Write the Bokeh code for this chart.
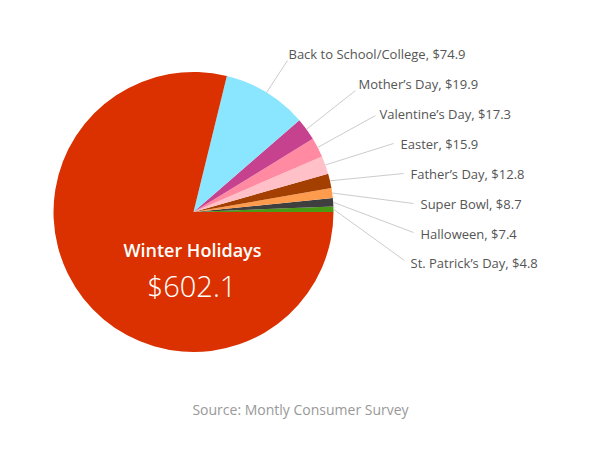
import numpy as np
from bokeh.plotting import figure
from bokeh.models import ColumnDataSource, Range1d
from bokeh.core.properties import value
from bokeh.embed import file_html
from bokeh.resources import INLINE

# ---- data ----
categories = ["St. Patrick’s Day", "Halloween", "Super Bowl", "Father’s Day",
              "Easter", "Valentine’s Day", "Mother’s Day", "Back to School/College",
              "Winter Holidays"]
spending = [4.8, 7.4, 8.7, 12.8, 15.9, 17.3, 19.9, 74.9, 602.1]
colors = ["#4a9a14", "#3f3f3f", "#ff9b4d", "#a33f00", "#ffc0c7",
          "#ff8aa1", "#c6428f", "#8ae5ff", "#db3100"]
source_note = "Source: Montly Consumer Survey"

# ---- layout (screen pixels, y measured from the top of the window) ----
W, H = 584, 456
cx, cy_top, R = 193.0, 211.5, 140.0
# label anchors for the small slices (same order as categories[:-1])
label_x = [410, 420, 420, 410, 400, 379, 358, 288]
label_y_top = [262, 233, 203, 173, 143, 113, 83, 53]
line_end_x = [404, 413, 413, 403, 393, 375, 355, 287]
line_end_y_top = [260, 232, 203, 173, 143, 115, 90, 60]

def Y(y_top):
    return H - y_top

cy = Y(cy_top)

vals = np.array(spending, dtype=float)
frac = vals / vals.sum()
ends = np.cumsum(frac) * 2 * np.pi
starts = np.concatenate([[0.0], ends[:-1]])
mids = (starts + ends) / 2

p = figure(width=584, height=440, output_backend="svg", toolbar_location=None,
           x_range=Range1d(0, W), y_range=Range1d(H - 440, H),
           min_border=0, outline_line_color=None)
p.axis.visible = False
p.grid.visible = False
p.background_fill_color = "white"
p.border_fill_color = "white"

src = ColumnDataSource(dict(start=starts, end=ends, color=colors, cat=categories, val=spending))
p.wedge(x=cx, y=cy, radius=R, start_angle="start", end_angle="end",
        fill_color="color", line_color=None, source=src)

# leader lines and labels for small slices
n = len(categories) - 1
xs, ys = [], []
for i in range(n):
    sx = cx + R * np.cos(mids[i])
    sy = cy + R * np.sin(mids[i])
    xs.append([sx, line_end_x[i]])
    ys.append([sy, Y(line_end_y_top[i])])
p.multi_line(xs=xs, ys=ys, line_color="#cccccc", line_width=1)

labels = [f"{categories[i]}, ${spending[i]}" for i in range(n)]
p.text(x=label_x, y=[Y(v) for v in label_y_top], text=labels,
       text_font=value("Open Sans"), text_font_size="13px", text_color="#555555",
       text_align="left", text_baseline="middle")

# main slice label
p.text(x=[192], y=[Y(249)], text=[categories[-1]],
       text_font=value("Open Sans SemiBold"), text_font_size="18px",
       text_color="white", text_align="center", text_baseline="middle")
p.text(x=[191], y=[Y(285)], text=[f"${spending[-1]}"],
       text_font=value("Open Sans Light"), text_font_size="29px",
       text_color="white", text_align="center", text_baseline="middle")

# source note
p.text(x=[300], y=[Y(409)], text=[source_note],
       text_font=value("Open Sans"), text_font_size="14px", text_color="#999999",
       text_align="center", text_baseline="middle")

open("out.html", "w").write(file_html(p, INLINE))
